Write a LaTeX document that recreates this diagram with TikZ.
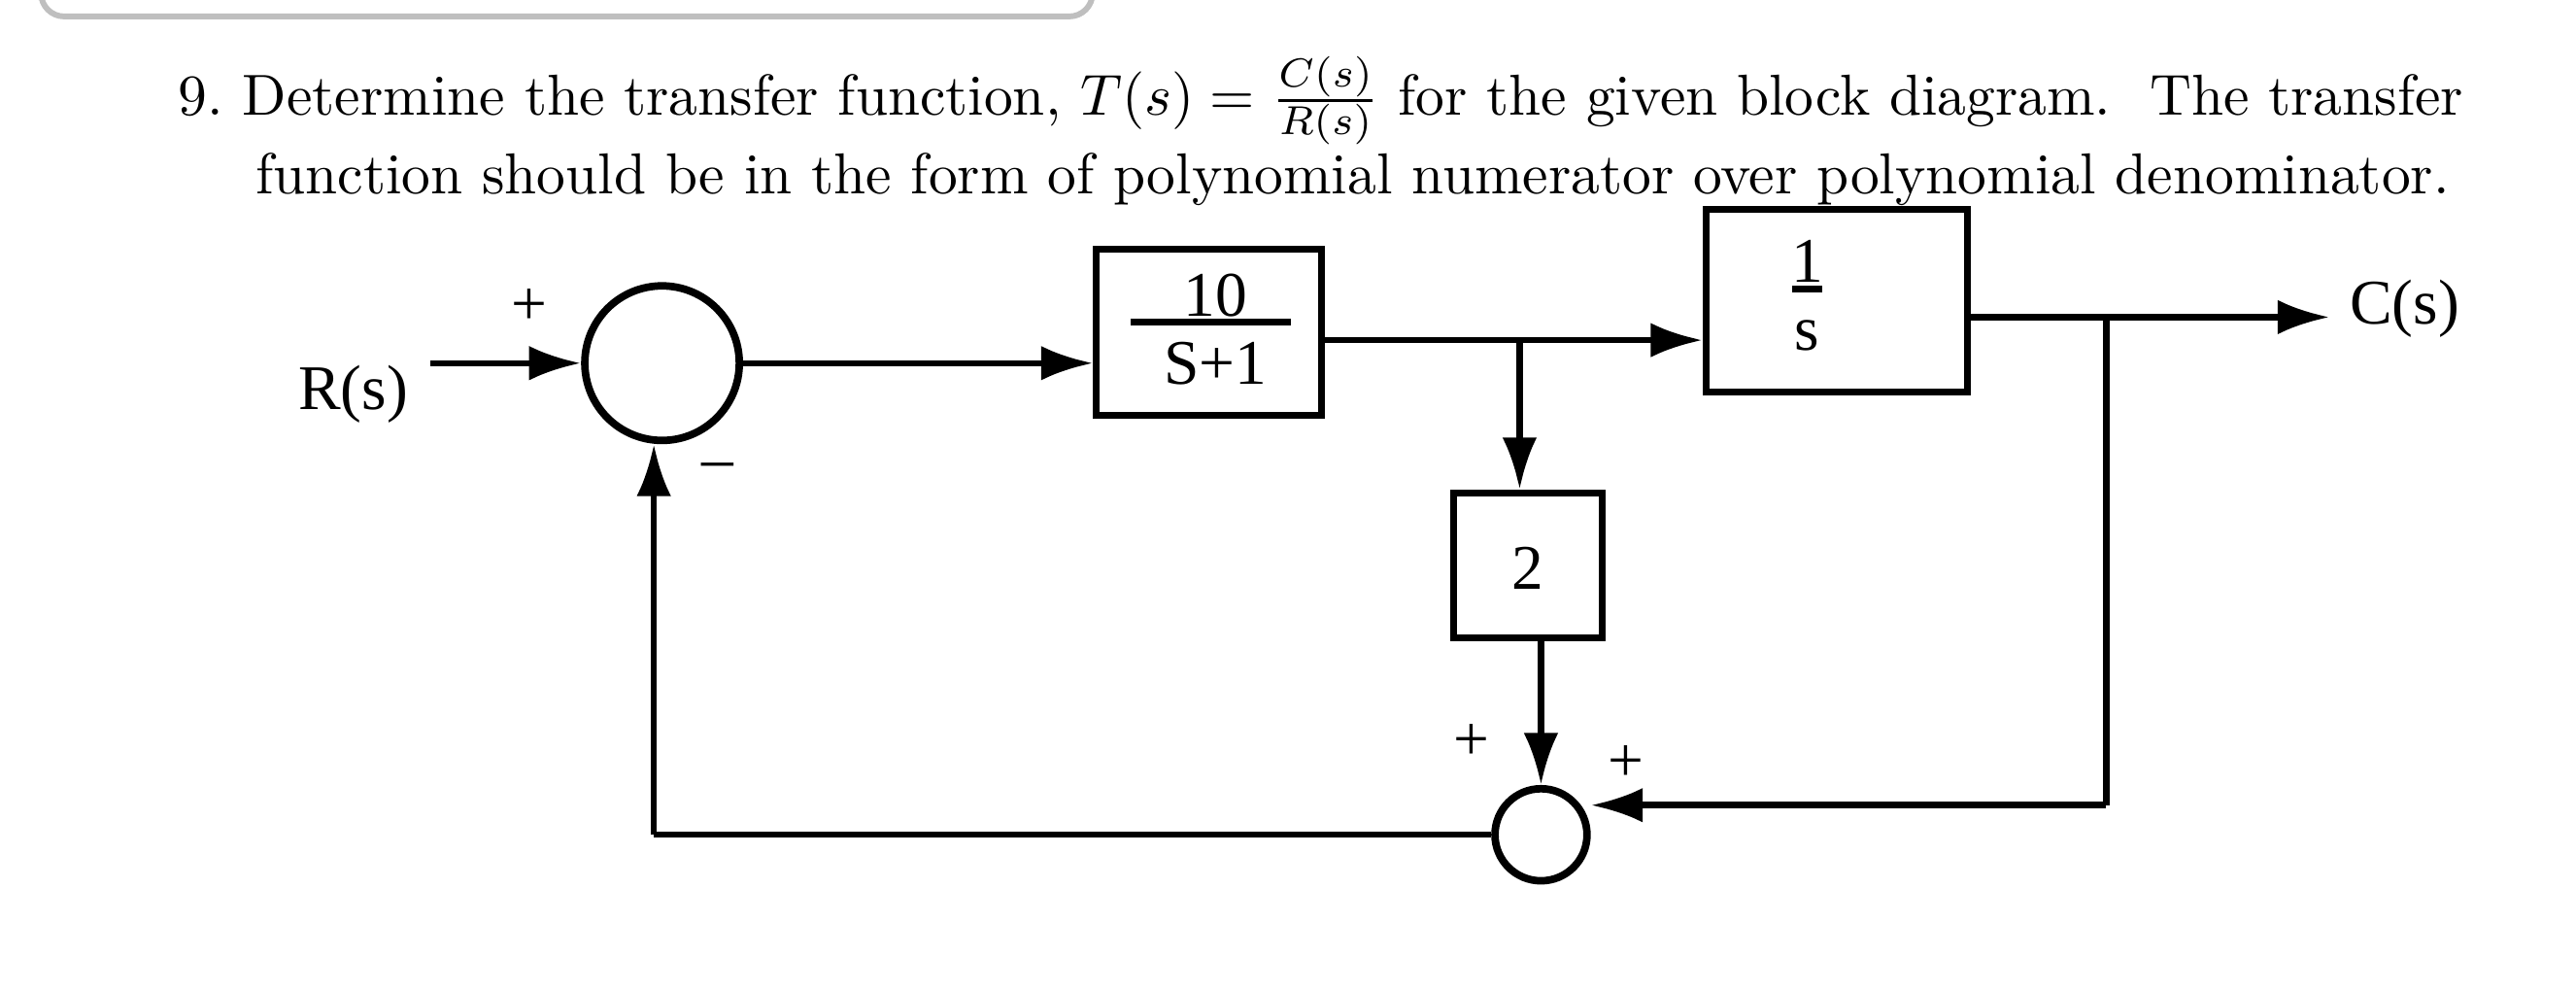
\documentclass[tikz,border=0pt]{standalone}
\usepackage{fontspec}
\newfontfamily\dg{Liberation Serif}
\usetikzlibrary{arrows.meta}
\begin{document}
\begin{tikzpicture}[x=0.01cm,y=-0.01cm,
  blk/.style={draw,line width=1.2pt,inner sep=0pt},
  sj/.style={draw,circle,line width=1.3pt,inner sep=0pt},
  ln/.style={line width=1.1pt},
  ar/.style={ln,-{Latex[length=9pt,width=6pt]}},
  lb/.style={font=\dg\fontsize{11}{13}\selectfont}]
\useasboundingbox (0,0) rectangle (1568,603);
\draw[gray!50,line width=1pt,rounded corners=4pt] (25,0) -- (25,10) -- (665,10) -- (665,0);
\node[anchor=base west,inner sep=0pt,font=\fontsize{10}{12}\selectfont] (t1) at (108,70) {9.\ Determine the transfer function, $T(s)=\frac{C(s)}{R(s)}$ for the given block diagram.\ \ The transfer};
\node[anchor=base west,inner sep=0pt,font=\fontsize{10}{12}\selectfont] (t2) at (155,118) {function should be in the form of polynomial numerator over polynomial denominator.};
% summing junctions
\node[sj,minimum size=0.94cm] (s1) at (403,221) {};
\node[sj,minimum size=0.56cm] (s2) at (938,508) {};
% blocks
\node[blk,minimum width=1.37cm,minimum height=1.01cm] (b1) at (736,202) {};
\node[lb] (n1) at (740,180) {10};
\draw[ln] (688,196) -- (786,196);
\node[lb] (d1) at (740,221) {S+1};
\node[blk,minimum width=1.59cm,minimum height=1.11cm] (b2) at (1118,183) {};
\node[lb] (n2) at (1100,159) {1};
\draw[ln] (1091,176) -- (1109,176);
\node[lb] (d2) at (1100,204) {s};
\node[blk,minimum width=0.9cm,minimum height=0.88cm] (b3) at (930,344) {};
\node[lb] (n3) at (930,346) {2};
% labels
\node[lb] (R) at (215,240) {R(s)};
\node[lb,anchor=west] (C) at (1418,188) {C(s)};
\node[lb] (p1) at (322,187) {+};
\node[lb] (m1) at (437,287) {\textendash};
\node[lb] (p2) at (896,452) {+};
\node[lb] (p3) at (990,465) {+};
% coordinates
\coordinate (rin) at (262,221);
\coordinate (j1) at (925,207);
\coordinate (j2) at (1282,193);
\coordinate (cb) at (1282,490);
\coordinate (fb) at (398,520);
% connectors
\draw[ar] (rin) -- (s1.west);
\draw[ar] (s1.east) -- (b1.west |- s1.east);
\draw[ln] (b1.east |- j1) -- (j1);
\draw[ar] (j1) -- (b2.west |- j1);
\draw[ar] (j1) -- (j1 |- b3.north);
\draw[ln] (b2.east |- j2) -- (j2);
\draw[ar] (j2) -- (C.west |- j2);
\draw[ln] (j2) -- (cb);
\draw[ar] (cb) -- (s2.east |- cb);
\draw[ar] (s2.north |- b3.south) -- (s2.north);
\draw[ln] (s2.west) -- (s2.west -| fb) coordinate (fb2);
\draw[ar] (fb2) -- (fb2 |- s1.south);
\end{tikzpicture}
\end{document}
